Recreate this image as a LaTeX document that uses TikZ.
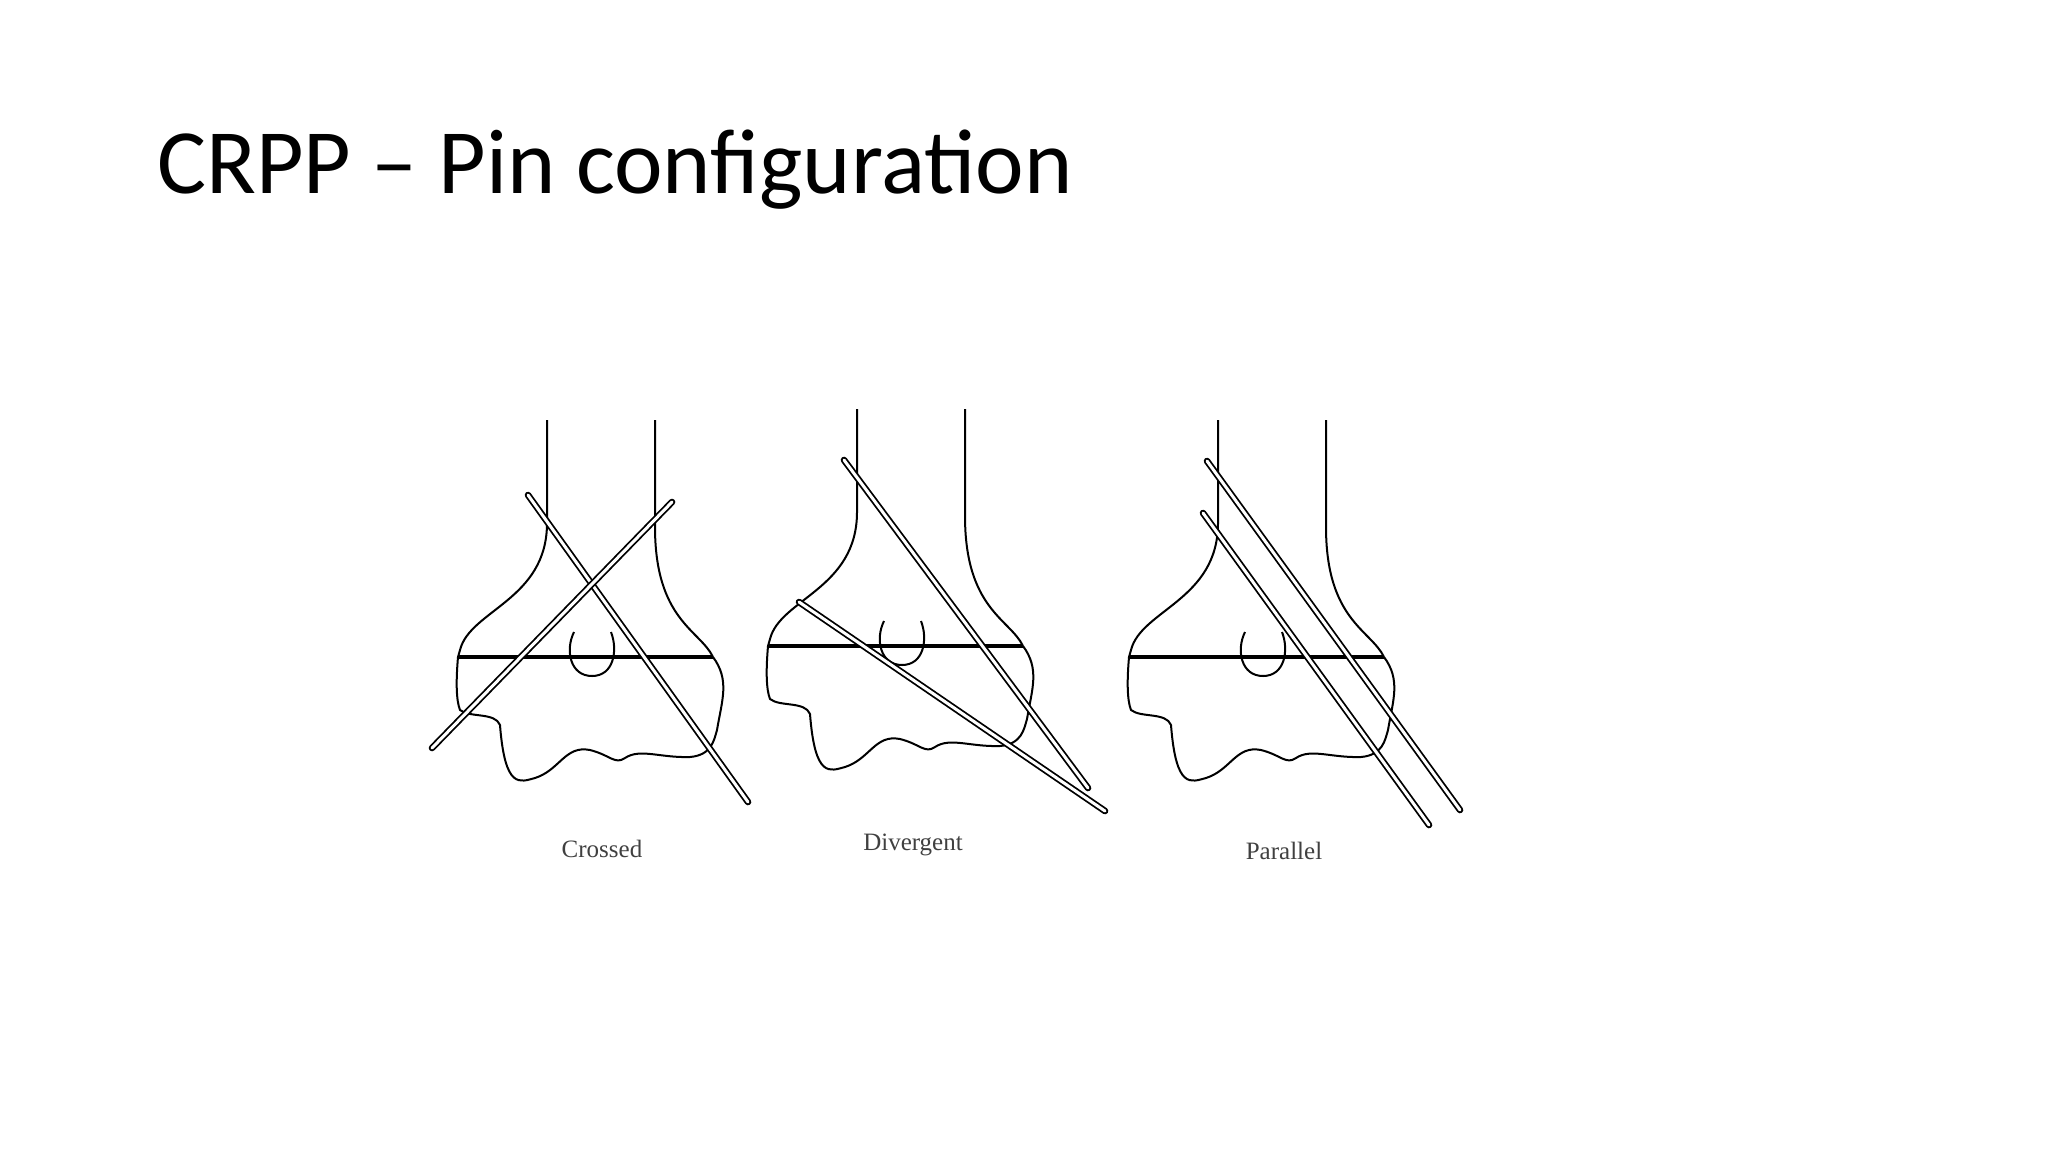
\documentclass[tikz,border=0pt]{standalone}
\usepackage{fontspec}
\setmainfont{Liberation Serif}
\newfontfamily\titlefont{Carlito}
\begin{document}
\begin{tikzpicture}[x=0.5pt,y=-0.5pt,
  bone/.style={line width=1pt,line join=round},
  jline/.style={line width=1.8pt},
  pin/.style={draw=black,double=white,double distance=1.5pt,line width=0.9pt,line cap=round},
  lbl/.style={font=\fontsize{12.5}{14}\selectfont,text=black!75}]
\useasboundingbox (0,0) rectangle (2048,1152);
\node[anchor=west,font=\titlefont\fontsize{46}{54}\selectfont] (title) at (150,170) {CRPP – Pin configuration};
\tikzset{pics/bone/.style={code={
  \draw[bone] (547,420) -- (547,523) .. controls (547,600) and (470,610) .. (460,650) -- (458,657);
  \draw[bone] (655,420) -- (655,527) .. controls (655,620) and (700,630) .. (713,657);
  \draw[jline] (458,657) -- (713,657);
  \draw[bone] (458,657) .. controls (456,680) and (456,700) .. (460,710)
     .. controls (470,718) and (495,712) .. (500,725)
     .. controls (505,790) and (520,782) .. (535,778)
     .. controls (560,770) and (565,745) .. (590,750)
     .. controls (610,755) and (615,765) .. (625,758)
     .. controls (640,748) and (660,758) .. (690,757)
     .. controls (712,755) and (714,740) .. (717,730)
     .. controls (722,700) and (730,680) .. (713,657);
  \draw[bone] (574,632) .. controls (565,650) and (570,676) .. (592,676)
     .. controls (614,676) and (618,650) .. (611,632);
}}}
\pic (b1) at (0,0) {bone};
\pic (b2) at (310,-11) {bone};
\pic (b3) at (671,0) {bone};
% crossed
\coordinate (c1a) at (528,495); \coordinate (c1b) at (748,802);
\coordinate (c2a) at (672,502); \coordinate (c2b) at (432,748);
\draw[pin] (c1a) -- (c1b); \draw[pin] (c2a) -- (c2b);
% divergent
\coordinate (d1a) at (844,460); \coordinate (d1b) at (1088,788);
\coordinate (d2a) at (799,602); \coordinate (d2b) at (1105,811);
\draw[pin] (d1a) -- (d1b); \draw[pin] (d2a) -- (d2b);
% parallel
\coordinate (p1a) at (1207,461); \coordinate (p1b) at (1460,810);
\coordinate (p2a) at (1203,513); \coordinate (p2b) at (1429,825);
\draw[pin] (p1a) -- (p1b); \draw[pin] (p2a) -- (p2b);
\node[lbl] (l1) at (602,849) {Crossed};
\node[lbl] (l2) at (913,845) {Divergent};
\node[lbl] (l3) at (1284,851) {Parallel};
\end{tikzpicture}
\end{document}
